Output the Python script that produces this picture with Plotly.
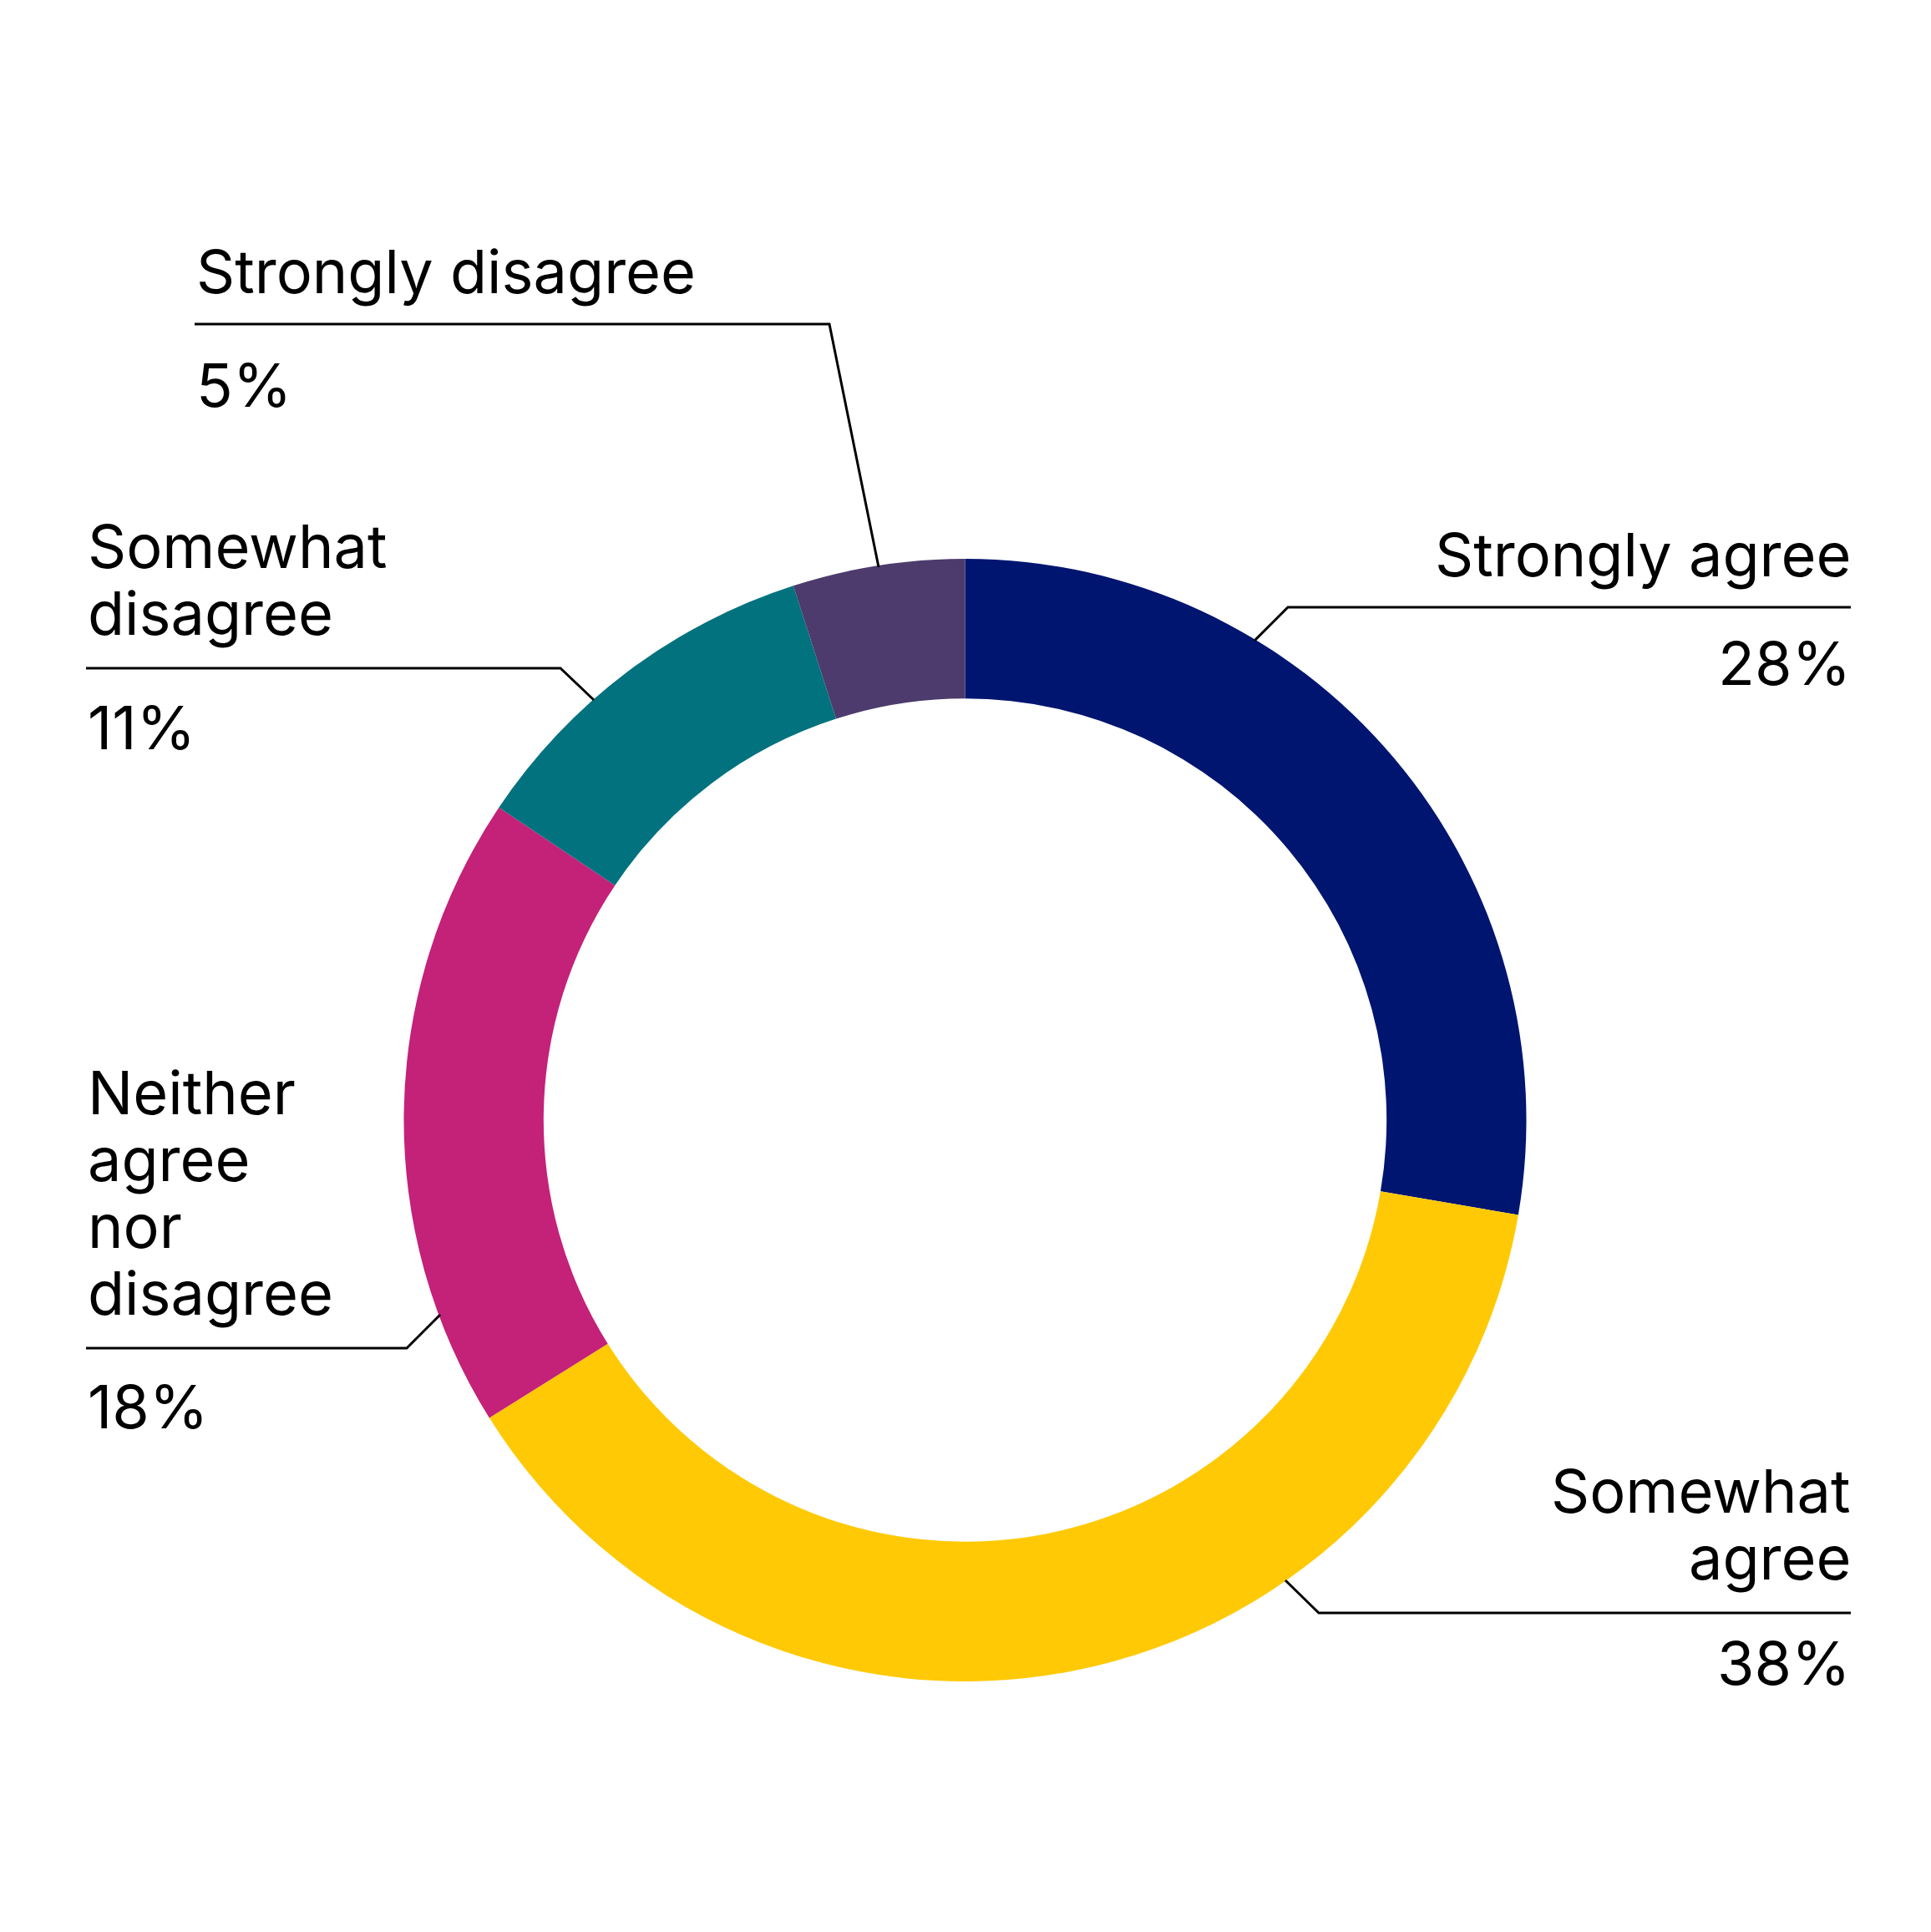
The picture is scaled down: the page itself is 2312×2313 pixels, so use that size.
import plotly.graph_objects as go

# ---- data ----
categories = ["Strongly agree", "Somewhat agree", "Neither agree nor disagree",
              "Somewhat disagree", "Strongly disagree"]
values = [27.7, 38.4, 18.3, 10.65, 4.95]
label_lines = [["Strongly agree"], ["Somewhat", "agree"],
               ["Neither", "agree", "nor", "disagree"],
               ["Somewhat", "disagree"], ["Strongly disagree"]]
colors = ["#001570", "#FFC905", "#C42178", "#02727E", "#4C3B6C"]

# ---- layout constants (pixels) ----
W, H = 2312, 2313
CX, CY, R = 1155.5, 1341, 672
FONT = "Inter"
FS = 72
LINE_H = 80
BASE_OFF = 23  # box centre sits this far above the baseline

# label placement: (anchor, x, first line baseline, percent baseline)
label_pos = [
    ("right", 2218, 690, 820),
    ("right", 2218, 1811, 2017),
    ("left", 103, 1334, 1710),
    ("left", 103, 680, 897),
    ("left", 233, 351, 487),
]
# leader lines (pixels): list of points
leaders = [
    [(2216, 727), (1542, 727), (1502, 767)],
    [(2216, 1931), (1579, 1931), (1539, 1892)],
    [(103, 1614), (487, 1614), (527, 1574)],
    [(103, 800), (671, 800), (711, 838)],
    [(233, 388), (993, 388), (1052, 679)],
]

def px(x):
    return x / W

def py(y):
    return 1 - y / H

fig = go.Figure(go.Pie(
    labels=categories, values=values, hole=0.751, sort=False,
    direction="clockwise", rotation=0,
    marker=dict(colors=colors, line=dict(width=0)),
    textinfo="none", hoverinfo="skip", showlegend=False,
    domain=dict(x=[px(CX - R), px(CX + R)], y=[py(CY + R), py(CY - R)]),
))

annotations = []
shapes = []

def add_text(txt, anchor, x, baseline):
    annotations.append(dict(
        x=px(x), y=py(baseline - BASE_OFF), xref="paper", yref="paper",
        text=txt, showarrow=False, xanchor=anchor, yanchor="middle",
        height=LINE_H, valign="bottom",
        font=dict(family=FONT, size=FS, color="#000000")))

for i, cat in enumerate(categories):
    anchor, x, base0, pbase = label_pos[i]
    for j, line in enumerate(label_lines[i]):
        add_text(line, anchor, x, base0 + j * LINE_H)
    add_text(f"{round(values[i])}%", anchor, x, pbase)
    pts = leaders[i]
    path = "M " + " L ".join(f"{px(a)},{py(b)}" for a, b in pts)
    shapes.append(dict(type="path", xref="paper", yref="paper", path=path,
                       line=dict(color="#000000", width=3)))

fig.update_layout(
    width=W, height=H, margin=dict(l=0, r=0, t=0, b=0),
    paper_bgcolor="white", plot_bgcolor="white",
    annotations=annotations, shapes=shapes,
)

fig.write_html("out.html")
